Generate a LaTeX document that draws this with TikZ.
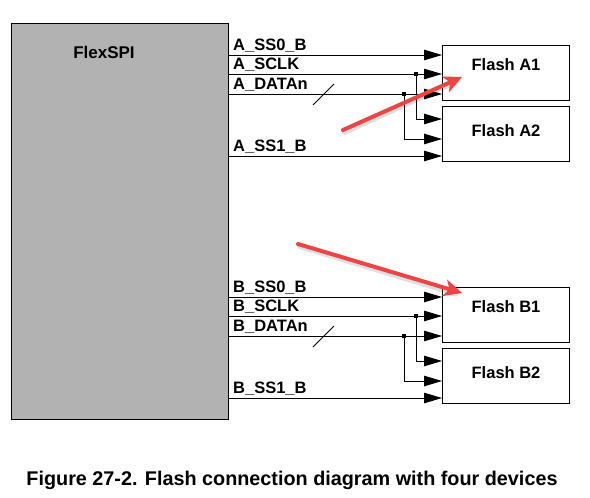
\documentclass[tikz,border=0pt]{standalone}
\usepackage{fontspec}
\setmainfont{Liberation Sans}
\usetikzlibrary{arrows.meta,positioning,calc}

\definecolor{redmark}{RGB}{239,68,68}

\begin{document}
\begin{tikzpicture}[
  x=1pt, y=-1pt,
  font=\fontsize{16.5}{19}\selectfont\bfseries,
  ctrl/.style  = {draw, line width=1.3pt, fill=black!30, inner sep=0pt,
                  minimum width=217pt, minimum height=396pt},
  flash/.style = {draw, line width=1.1pt, inner sep=0pt,
                  minimum width=127pt, minimum height=55pt},
  sig/.style   = {line width=0.9pt, -{Triangle[length=18pt,width=10.5pt]}},
  tap/.style   = {line width=0.9pt},
  lbl/.style   = {anchor=base west, inner sep=0pt},
  jn/.style    = {fill, minimum size=4pt, inner sep=0pt},
  callout/.style = {line width=4pt, redmark, line cap=round,
                    -{Stealth[length=18pt,width=17pt,inset=5pt]}},
  calloutsh/.style = {line width=5pt, black, opacity=0.12, line cap=round},
]
\useasboundingbox (0,0) rectangle (590,498);

% =========================== controller ====================================
\node[ctrl, anchor=north west] (flex) at (11,23) {};
\node[font=\fontsize{17}{19}\selectfont\bfseries] (flexlbl) at (104,52) {FlexSPI};

% =========================== two banks of flash ============================
\foreach \bk/\dy in {A/0, B/242}{
  \begin{scope}[shift={(0,\dy)}]
    \node[flash, anchor=north west] (f\bk1) at (442,45)  {};
    \node[flash, anchor=north west] (f\bk2) at (442,106) {};
    \node[yshift=-20pt]  (t\bk1) at (f\bk1.north)  {Flash \bk1};
    \node[yshift=3.5pt]  (t\bk2) at (f\bk2.center) {Flash \bk2};

    % signal rows leave the controller
    \coordinate (\bk ss0) at (228,55);
    \coordinate (\bk clk) at (228,74);
    \coordinate (\bk dat) at (228,94);
    \coordinate (\bk ss1) at (228,156);
    \coordinate (\bk jk)  at (416,74);
    \coordinate (\bk jd)  at (404,94);
    \coordinate (\bk k2)  at (442,119);
    \coordinate (\bk d2)  at (442,139);

    \node[lbl] (l\bk ss0) at (233,50.5)  {\bk\_SS0\_B};
    \node[lbl] (l\bk clk) at (233,69.5)  {\bk\_SCLK};
    \node[lbl] (l\bk dat) at (233,89.5)  {\bk\_DATAn};
    \node[lbl] (l\bk ss1) at (233,151.5) {\bk\_SS1\_B};

    \draw[sig] (\bk ss0) -- (\bk ss0 -| f\bk1.west);
    \draw[sig] (\bk clk) -- (\bk clk -| f\bk1.west);
    \draw[sig] (\bk dat) -- (\bk dat -| f\bk1.west);
    \draw[sig] (\bk ss1) -- (\bk ss1 -| f\bk2.west);

    % shared clock / data taps to the second device
    \draw[sig] (\bk jk) |- (f\bk2.west |- \bk k2);
    \draw[sig] (\bk jd) |- (f\bk2.west |- \bk d2);
    \node[jn] (j\bk k) at (\bk jk) {};
    \node[jn] (j\bk d) at (\bk jd) {};

    % bus slash
    \coordinate (s\bk 0) at (313,105);
    \coordinate (s\bk 1) at (334,84);
    \draw[tap] (s\bk 0) -- (s\bk 1);
  \end{scope}
}

% =========================== red call-outs =================================
\coordinate (rA0) at (343,130);
\coordinate (rA1) at (462,77);
\coordinate (rB0) at (298,244);
\coordinate (rB1) at (462,293);
\draw[calloutsh] ([shift={(1.5,2.5)}]rA0) -- ([shift={(-6,5)}]rA1);
\draw[calloutsh] ([shift={(1.5,2.5)}]rB0) -- ([shift={(-6,1)}]rB1);
\draw[callout] (rA0) -- (rA1);
\draw[callout] (rB0) -- (rB1);

% =========================== caption =======================================
\node[anchor=base, font=\fontsize{19.8}{22}\selectfont\bfseries] (cap) at (292,485)
  {Figure 27-2. Flash connection diagram with four devices};

\end{tikzpicture}
\end{document}
